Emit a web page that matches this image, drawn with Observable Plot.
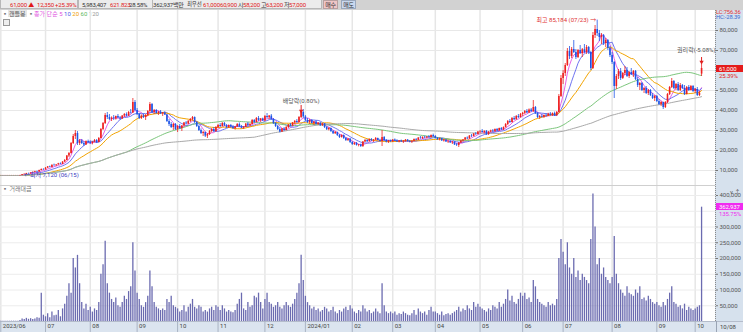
<!DOCTYPE html>
<html><head><meta charset="utf-8">
<script src="https://cdn.jsdelivr.net/npm/d3@7"></script>
<script src="https://cdn.jsdelivr.net/npm/@observablehq/plot@0.6"></script>
<style>
body{margin:0;background:#fff;font-family:Roboto,"Noto Sans CJK KR","Noto Sans",sans-serif;}
#wrap{position:relative;width:743px;height:332px;overflow:hidden;background:#fff}
.abs{position:absolute;white-space:nowrap}
#hdr{left:0;top:0;width:743px;height:10px;background:#d2d2d2;font-size:6px;line-height:9px}
.cell{position:absolute;top:0;height:8px;background:#ececec;border:1px solid #b8b8b8;border-top:none}
.t{position:absolute;top:0;font-size:6px;line-height:9px;letter-spacing:-0.2px}
.r{color:#e01818}.k{color:#333}.b{color:#2040c0}
#rpanel{left:715px;top:10px;width:28px;height:311px;background:#d6e1ed;border-left:1px dotted #8a8a8a}
#xbar{left:0;top:321px;width:743px;height:11px;background:#dbe4ef;border-top:1px solid #b4bccb;box-sizing:border-box}
#sep{left:0;top:185px;width:715px;height:1px;background:#cfcfcf}
svg{position:absolute}
</style></head>
<body><div id="wrap">
<div id="hdr" class="abs">
  <div class="cell" style="left:0;width:76px"></div>
  <div class="cell" style="left:78px;width:73px"></div>
  <div class="cell" style="left:152px;width:168px"></div>
  <span class="t r" style="left:10px">61,000 ▲</span>
  <span class="t r" style="left:37px">12,350</span>
  <span class="t r" style="left:55px">+25.39%</span>
  <span class="t k" style="left:82px">5,983,407</span>
  <span class="t r" style="left:110px">621.823</span>
  <span class="t k" style="left:129px">28.58%</span>
  <span class="t k" style="left:153px">362,937백만</span>
  <span class="t k" style="left:187px;font-size:5.5px">최우선</span>
  <span class="t r" style="left:203px">61,000</span>
  <span class="t r" style="left:220px">60,900</span>
  <span class="t k" style="left:238px">시</span><span class="t r" style="left:243px">58,200</span>
  <span class="t k" style="left:261px">고</span><span class="t r" style="left:266px">63,200</span>
  <span class="t k" style="left:284px">저</span><span class="t r" style="left:289px">57,000</span>
  <span class="t k" style="left:323px;top:0;height:9px;width:15px;background:#efc6c6;border:1px solid #b9a0a0;box-sizing:border-box;text-align:center;line-height:7px">매수</span>
  <span class="t k" style="left:341px;top:0;height:9px;width:15px;background:#c9d8ee;border:1px solid #9aa8bd;box-sizing:border-box;text-align:center;line-height:7px">매도</span>
</div>
<div id="rpanel" class="abs"></div>
<div id="xbar" class="abs"></div>
<div id="sep" class="abs"></div>
<div class="abs" style="left:716px;top:321px;width:1px;height:11px;background:#9aa4b4"></div>
<span class="abs" style="left:720px;top:322px;font-size:6px;line-height:9px;color:#444">10/08</span>
<span class="abs" style="left:716px;top:9px;font-size:5.8px;line-height:7px;color:#e03030;letter-spacing:-0.15px">LC:756.36</span>
<span class="abs" style="left:716px;top:14px;font-size:5.8px;line-height:7px;color:#3a6ad0;letter-spacing:-0.15px">HC:-28.39</span>
<div class="abs" style="left:2px;top:10px;font-size:6px;line-height:8px">
  <span style="color:#777">▪</span><span style="background:#e6e6e6;color:#555;padding:0 1px">캔들봉</span>
  <span style="color:#777">▪</span><span style="color:#e050e0">종가 단순 5</span>
  <span style="color:#4a5ae8">10</span> <span style="color:#f0a000">20</span> <span style="color:#5cb85c">60</span> <span style="color:#999">120</span>
</div>
<div class="abs" style="left:3px;top:19px;width:5px;height:5px;border:1px solid #999;background:#eee"></div>
<span class="abs" style="left:2px;top:185px;font-size:6px;line-height:8px;color:#777">▪ 거래대금</span>
<div id="chart"></div>
</div>
<script>
// ---- Daily candles [open, high, low, close] in thousand KRW ----
const jun23 = [[7.5,7.55,7.45,7.5],[7.5,7.55,7.45,7.5],[7.5,7.55,7.45,7.5],[7.5,7.55,7.45,7.5],[7.5,7.55,7.45,7.5],[7.5,7.55,7.45,7.5],[7.5,7.55,7.45,7.5],[7.5,7.55,7.45,7.5],[7.5,7.55,7.45,7.5],[7.45,7.6,7.12,7.5],
 [7.5,8.0,7.4,7.9],[7.9,8.3,7.8,8.1],[8.1,8.6,8.0,8.5],[8.5,8.7,8.2,8.3],[8.3,9.0,8.2,8.9],[8.9,9.3,8.7,9.1],[9.1,9.6,9.0,9.5],[9.5,9.7,9.0,9.2],[9.2,10.2,9.1,10.0],[10.0,10.8,9.8,10.5],[10.5,10.9,10.1,10.3]];
const jul23 = [[10.3,11.5,10.2,11.2],[11.2,12.0,11.0,11.8],[11.8,12.2,11.3,11.5],[11.5,12.8,11.4,12.6],[12.6,13.2,12.2,12.4],[12.4,13.0,12.0,12.8],[12.8,13.6,12.6,13.4],[13.4,13.8,12.9,13.1],[13.1,14.5,13.0,14.2],[14.2,15.5,13.9,15.0],
 [15.0,17.5,14.8,17.2],[17.2,19.0,16.5,18.5],[18.5,24.0,18.2,23.5],[23.5,28.0,23.0,27.0],[27.0,30.0,25.5,28.5],[28.5,29.5,22.5,23.5],[23.5,25.5,22.5,24.8],[24.8,25.5,23.0,23.5],[23.5,24.5,22.0,22.8],[22.8,24.8,22.5,24.5],[24.5,25.2,23.5,24.0]];
const aug23 = [[24.0,24.8,23.0,23.5],[23.5,24.5,22.8,24.2],[24.2,25.5,23.8,25.0],[25.0,25.5,23.5,24.0],[24.0,26.5,23.8,26.0],[26.0,31.0,25.8,30.5],[30.5,34.0,30.0,33.5],[33.5,38.5,33.0,37.5],[37.5,39.0,35.5,36.5],[36.5,38.0,35.0,35.5],[35.5,36.8,34.5,36.2],
 [36.2,37.5,35.0,35.8],[35.8,37.2,35.2,37.0],[37.0,38.0,36.0,36.3],[36.3,37.0,35.2,35.8],[35.8,37.5,35.5,37.2],[37.2,38.5,36.5,38.0],[38.0,38.8,36.8,37.2],[37.2,39.5,37.0,39.0],[39.0,40.5,38.2,38.8],[38.8,46.0,38.5,44.0],[44.0,45.0,39.5,40.0]];
const sep23 = [[40.0,41.0,37.5,38.0],[38.0,38.5,35.5,36.0],[36.0,37.8,35.5,37.2],[37.2,38.2,36.0,36.5],[36.5,38.0,35.0,37.5],[37.5,40.0,37.0,39.5],[39.5,44.0,39.0,43.0],[43.0,43.5,38.5,39.0],[39.0,40.5,38.0,40.0],[40.0,40.5,38.2,38.5],
 [38.5,39.5,37.5,39.2],[39.2,40.0,38.0,38.3],[38.3,39.0,37.0,38.8],[38.8,39.3,37.5,37.8],[37.8,38.0,34.0,34.5],[34.5,35.5,32.0,33.0],[33.0,34.0,31.0,31.5],[31.5,33.5,30.0,33.0],[33.0,33.5,30.0,30.5]];
const oct23 = [[30.5,32.5,29.0,32.0],[32.0,33.0,30.5,31.0],[31.0,32.5,29.5,32.3],[32.3,34.0,31.8,33.8],[33.8,34.5,32.8,33.2],[33.2,35.0,33.0,34.6],[34.6,36.0,34.0,35.5],[35.5,37.0,34.8,36.5],[36.5,36.8,33.5,34.0],[34.0,34.5,31.5,32.0],
 [32.0,32.5,29.5,30.0],[30.0,30.8,28.0,28.5],[28.5,29.5,27.0,29.0],[29.0,29.2,26.5,27.2],[27.2,28.5,26.0,28.0],[28.0,30.0,27.5,29.5],[29.5,31.0,28.8,30.5],[30.5,31.5,29.0,29.5],[29.5,32.0,29.0,31.5]];
const nov23 = [[31.5,33.0,31.0,32.5],[32.5,33.5,31.5,32.0],[32.0,34.0,31.8,33.5],[33.5,34.0,32.0,32.3],[32.3,33.0,31.0,31.5],[31.5,32.8,31.0,32.5],[32.5,33.0,31.2,31.8],[31.8,32.5,30.5,31.0],[31.0,32.0,30.2,31.8],[31.8,33.5,31.5,33.0],[33.0,33.8,31.5,31.8],
 [31.8,32.5,30.8,31.2],[31.2,32.0,30.5,31.6],[31.6,33.5,31.5,33.2],[33.2,34.0,32.0,32.4],[32.4,33.5,32.0,33.0],[33.0,35.5,32.8,35.0],[35.0,35.5,33.5,34.0],[34.0,36.5,33.8,36.0],[36.0,37.0,34.5,35.0],[35.0,36.0,34.0,35.8],[35.8,36.2,34.5,34.8]];
const dec23 = [[34.8,37.5,34.5,37.0],[37.0,38.5,36.0,36.5],[36.5,37.5,35.5,37.2],[37.2,38.0,35.0,35.5],[35.5,36.0,33.0,33.5],[33.5,34.0,31.5,32.0],[32.0,32.5,30.0,30.5],[30.5,31.5,28.8,29.2],[29.2,31.0,29.0,30.8],[30.8,31.5,29.5,30.0],
 [30.0,32.0,29.8,31.5],[31.5,33.0,31.0,32.8],[32.8,33.5,31.8,32.2],[32.2,34.0,32.0,33.8],[33.8,35.0,33.0,34.5],[34.5,35.5,33.5,34.0],[34.0,37.0,33.8,36.5],[36.5,40.0,36.0,39.0],[39.0,40.5,36.0,36.8]];
const jan24 = [[36.8,37.5,34.5,35.0],[35.0,36.0,33.5,34.0],[34.0,35.5,33.0,35.0],[35.0,35.5,33.2,33.5],[33.5,34.5,32.5,34.2],[34.2,34.8,32.8,33.0],[33.0,34.0,32.5,33.6],[33.6,34.0,32.0,32.4],[32.4,33.5,32.0,33.2],[33.2,33.5,31.0,31.5],[31.5,32.0,30.0,30.4],
 [30.4,31.5,29.8,31.0],[31.0,31.2,29.0,29.5],[29.5,30.0,28.0,28.4],[28.4,29.5,28.0,29.0],[29.0,29.2,27.0,27.5],[27.5,28.0,26.0,26.5],[26.5,27.8,26.2,27.5],[27.5,27.8,25.5,26.0],[26.0,26.5,24.5,25.0],[25.0,26.0,24.5,25.6],[25.6,26.0,23.5,24.0]];
const feb24 = [[24.0,24.5,22.5,23.0],[23.0,24.0,22.5,23.6],[23.6,24.0,22.2,22.5],[22.5,23.0,21.8,22.8],[22.8,23.2,21.5,22.0],[22.0,24.5,21.5,24.2],[24.2,25.5,24.0,25.0],[25.0,25.5,24.0,24.4],[24.4,25.8,24.2,25.5],[25.5,26.0,24.5,24.8],
 [24.8,25.5,24.0,25.2],[25.2,26.5,25.0,26.0],[26.0,26.2,24.8,25.0],[25.0,25.6,24.2,24.5],[24.5,30.0,22.0,26.5],[26.5,27.0,24.5,25.0],[25.0,25.5,23.8,24.2],[24.2,25.0,23.5,24.8],[24.8,25.2,24.0,24.4]];
const mar24 = [[24.4,25.5,24.0,25.2],[25.2,25.8,24.5,24.8],[24.8,25.4,24.0,24.2],[24.2,25.0,23.8,24.8],[24.8,25.2,24.0,24.3],[24.3,25.0,23.5,24.6],[24.6,25.5,24.2,25.2],[25.2,25.5,24.2,24.5],[24.5,25.0,23.8,24.2],[24.2,24.8,23.5,24.6],
 [24.6,25.8,24.4,25.5],[25.5,26.0,24.8,25.1],[25.1,26.5,25.0,26.2],[26.2,27.0,25.6,26.0],[26.0,26.8,25.5,26.6],[26.6,27.2,26.0,26.4],[26.4,27.0,25.8,26.8],[26.8,27.5,26.2,26.5],[26.5,27.8,26.2,27.5],[27.5,28.2,26.5,27.0]];
const apr24 = [[27.0,27.5,25.8,26.0],[26.0,26.5,25.0,25.5],[25.5,26.2,24.8,25.9],[25.9,26.0,24.5,24.8],[24.8,25.5,24.2,25.2],[25.2,25.5,24.0,24.3],[24.3,24.8,23.5,24.6],[24.6,25.0,23.5,23.8],[23.8,24.5,23.0,24.2],[24.2,24.4,22.5,22.8],[22.8,23.5,22.0,22.5],
 [22.5,24.0,21.5,23.8],[23.8,25.0,23.5,24.8],[24.8,25.5,24.0,25.2],[25.2,26.5,25.0,26.2],[26.2,26.8,25.5,25.8],[25.8,27.5,25.6,27.2],[27.2,28.0,26.5,27.0],[27.0,28.5,26.8,28.2],[28.2,29.0,27.5,28.0],[28.0,29.5,27.8,29.2]];
const may24 = [[29.2,30.0,28.5,29.5],[29.5,30.5,28.8,29.0],[29.0,29.8,28.2,29.6],[29.6,30.0,27.5,28.0],[28.0,29.5,27.5,29.2],[29.2,30.2,28.8,29.8],[29.8,30.5,29.0,29.4],[29.4,30.8,29.2,30.5],[30.5,31.0,29.5,29.8],[29.8,31.2,29.6,31.0],
 [31.0,31.5,30.0,30.3],[30.3,31.8,30.0,31.5],[31.5,33.5,31.2,33.0],[33.0,35.0,32.5,34.5],[34.5,35.5,33.5,34.0],[34.0,36.5,33.8,36.0],[36.0,37.0,35.0,35.4],[35.4,37.5,35.2,37.0],[37.0,38.0,36.0,36.5],[36.5,38.5,36.2,38.0]];
const jun24 = [[38.0,39.0,37.0,38.6],[38.6,40.0,38.0,39.5],[39.5,40.5,38.5,38.8],[38.8,40.8,38.5,40.2],[40.2,41.0,39.0,39.5],[39.5,45.0,39.0,41.5],[41.5,42.0,38.0,38.5],[38.5,39.0,36.0,36.5],[36.5,37.5,35.5,37.0],[37.0,38.0,36.2,36.6],
 [36.6,37.8,36.0,37.5],[37.5,38.5,36.8,37.2],[37.2,38.6,37.0,38.2],[38.2,39.0,37.2,37.6],[37.6,38.8,37.0,38.5],[38.5,39.2,37.0,37.4],[37.4,39.5,37.0,39.0],[39.0,48.0,38.8,47.0],[47.0,57.5,46.5,56.0]];
const jul24 = [[56.0,60.0,53.0,58.5],[58.5,63.5,57.0,62.5],[62.5,71.0,62.0,69.5],[69.5,72.0,65.5,67.0],[67.0,71.5,66.0,70.5],[70.5,75.0,68.5,69.0],[69.0,70.5,65.5,66.5],[66.5,70.5,66.0,70.0],[70.0,72.5,68.0,68.5],[68.5,71.0,66.5,70.4],[70.4,73.0,68.5,69.0],
 [69.0,72.5,68.0,71.5],[71.5,72.0,68.0,69.0],[69.0,69.5,60.0,61.0],[61.0,79.0,60.5,77.5],[77.5,82.5,76.0,80.5],[80.5,85.184,77.0,78.5],[78.5,80.0,74.5,76.5],[76.5,78.5,73.0,77.5],[77.5,78.0,72.5,73.5],[73.5,76.0,71.5,75.0],[75.0,75.5,70.0,71.0],[71.0,72.0,66.5,67.5]];
const aug24 = [[67.5,69.0,63.0,64.0],[64.0,64.5,46.0,52.0],[52.0,58.0,50.5,57.0],[57.0,60.5,55.5,59.5],[59.5,61.0,55.0,56.0],[56.0,59.0,55.5,58.5],[58.5,62.0,57.5,60.0],[60.0,61.5,56.5,57.0],[57.0,59.5,56.0,59.0],[59.0,61.0,57.5,58.0],[58.0,60.0,56.5,59.5],
 [59.5,60.0,55.0,55.5],[55.5,56.5,51.5,52.5],[52.5,54.0,50.0,53.5],[53.5,54.0,49.5,50.0],[50.0,51.5,48.5,51.0],[51.0,52.0,48.0,48.5],[48.5,50.5,47.5,50.0],[50.0,50.5,47.0,47.5],[47.5,48.5,45.5,46.0],[46.0,47.5,44.5,47.0]];
const sep24 = [[47.0,47.5,44.0,44.5],[44.5,45.5,42.5,43.0],[43.0,44.5,42.0,44.0],[44.0,44.2,40.5,41.5],[41.5,44.5,41.0,44.0],[44.0,48.5,43.5,48.0],[48.0,52.0,47.5,51.5],[51.5,56.0,51.0,54.5],[54.5,55.0,50.5,51.0],
 [51.0,53.5,50.0,53.0],[53.0,54.0,49.5,50.0],[50.0,53.5,49.5,52.5],[52.5,53.0,50.5,51.0],[51.0,52.5,47.5,48.0],[48.0,52.0,47.8,51.5],[51.5,52.5,49.5,50.0],[50.0,52.5,49.8,52.0],[52.0,52.5,49.0,49.5]];
const oct24 = [[49.5,51.0,48.5,50.5],[50.5,51.5,47.0,47.5],[47.5,49.5,47.0,48.65],[58.2,63.2,57.0,61.0]];

// ---- Daily trading value (thousand of 백만원) ----
const vJun23 = [1,1,1,1,1,1,1,1,1,3,8,6,10,7,9,6,8,12,10,90,20];
const vJul23 = [15,25,12,30,18,20,35,15,40,55,80,120,90,200,170,210,120,60,40,55,35];
const vAug23 = [45,30,40,35,60,150,180,255,120,90,70,60,75,50,45,60,80,70,95,110,250,160];
const vSep23 = [90,70,50,45,60,80,160,110,60,45,40,35,40,35,70,60,80,50,45];
const vOct23 = [40,30,35,50,30,45,55,70,45,40,50,45,30,35,30,40,45,35,50];
const vNov23 = [45,35,50,40,30,35,30,28,35,55,70,90,40,35,60,45,50,80,75,90,60,40];
const vDec23 = [70,90,60,55,45,50,60,45,40,50,60,50,45,55,70,90,120,210,130];
const vJan24 = [80,60,50,40,45,35,40,30,35,45,40,30,35,45,30,25,35,30,40,45,35,50];
const vFeb24 = [40,30,25,35,30,50,40,30,35,25,30,40,30,25,120,50,30,25,30];
const vMar24 = [25,30,20,25,22,30,25,20,18,25,35,20,40,30,25,30,20,35,45,30];
const vApr24 = [30,25,20,30,18,22,25,20,25,30,35,45,30,40,35,50,40,35,60,45,55];
const vMay24 = [45,40,35,30,40,35,50,45,40,60,45,55,70,100,65,80,60,55,70,90];
const vJun24 = [80,90,70,75,60,130,110,70,60,55,50,45,60,50,55,50,70,200,260];
const vJul24 = [220,180,250,170,150,200,140,160,130,150,140,130,120,260,405,300,180,200,150,170,140,130,120];
const vAug24 = [140,270,150,120,100,90,80,110,90,85,80,100,90,110,70,75,65,80,70,60,55];
const vSep24 = [60,50,45,60,50,70,90,110,60,55,45,50,40,55,35,45,40,35];
const vOct24 = [40,45,50,362.937];

// ---- Axis ticks ----
const monthIdx = [0,21,42,64,83,102,124,143,165,184,204,225,245,264,287,308,326];
const monthLabels = ["2023/06","07","08","09","10","11","12","2024/01","02","03","04","05","06","07","08","09","10"];
const priceTicks = [10000,20000,30000,40000,50000,60000,70000,80000];
const priceLabelTicks = [10000,20000,30000,40000,50000,70000,80000];   // 60,000 is hidden behind the current-price box
const volTicks = [50000,100000,150000,200000,250000,300000,350000,400000];
const volLabelTicks = [50000,100000,150000,200000,250000,300000,400000]; // 350,000 hidden behind the current-value box
const maPeriods = [5,10,20,60,120];
const maColors = ["#e662e6","#6f74f0","#f2a300","#7cc67c","#a9a9a9"];

const candlesK = [jun23,jul23,aug23,sep23,oct23,nov23,dec23,jan24,feb24,mar24,apr24,may24,jun24,jul24,aug24,sep24,oct24].flat();
const volsK = [vJun23,vJul23,vAug23,vSep23,vOct23,vNov23,vDec23,vJan24,vFeb24,vMar24,vApr24,vMay24,vJun24,vJul24,vAug24,vSep24,vOct24].flat();
const data = candlesK.map((d,i)=>({i,o:d[0]*1000,h:d[1]*1000,l:d[2]*1000,c:d[3]*1000}));
const vols = volsK.map((v,i)=>({i,v:v*1000}));
const RED="#ee2020", BLUE="#1f55e6";
const col = d => d.c >= d.o ? RED : BLUE;
const mas = maPeriods.map((k,j)=>data.map((d,i)=>({i, v:d3.mean(data.slice(Math.max(0,i-k+1),i+1),e=>e.c), k})));
const months = monthIdx.map((i,j)=>({i,label:monthLabels[j]}));
const xDomain = [-0.141, 335.54];
const font = 'Roboto,"Noto Sans CJK KR","Noto Sans",sans-serif';

const price = Plot.plot({
  width:743, height:175, marginLeft:0, marginRight:28, marginTop:0, marginBottom:0,
  style:{background:"transparent", fontFamily:font, fontSize:"6px", overflow:"visible"},
  x:{domain:xDomain, axis:null},
  y:{domain:[2500,90000], axis:null},
  color:{type:"identity"},
  marks:[
    Plot.ruleX(months,{x:"i", stroke:"#e6e6e6", strokeWidth:1.5}),
    Plot.ruleY(priceTicks,{stroke:"#e8e8e8"}),
    Plot.axisY({anchor:"right", ticks:priceLabelTicks, tickFormat:d3.format(","), tickSize:2, tickPadding:2, stroke:"#777", fill:"#555", fontSize:6}),
    ...mas.map((m,j)=>Plot.line(m,{x:"i", y:"v", stroke:maColors[j], strokeWidth:1})),
    Plot.ruleX(data,{x:"i", y1:"l", y2:"h", stroke:col, strokeWidth:0.8}),
    Plot.ruleX(data,{x:"i", y1:"o", y2:"c", stroke:col, strokeWidth:1.6}),
    // annotations
    Plot.text([data[280]],{x:"i", y:"h", text:()=>"최고 85,184 (07/23) →", textAnchor:"end", dx:-1, fill:"#e03030", fontSize:6}),
    Plot.text([data[9]],{x:"i", y:"l", text:()=>"←최저 7,120 (06/15)", textAnchor:"start", dx:4, dy:-1, fill:"#3b3bc0", fontSize:6}),
    Plot.text([{i:141,y:44500}],{x:"i", y:"y", text:()=>"배당락(0.80%)", fill:"#555", fontSize:6}),
    Plot.ruleX([{i:141,a:42500,b:39500}],{x:"i", y1:"a", y2:"b", stroke:"#e02020"}),
    Plot.dot([{i:141,y:39800}],{x:"i", y:"y", symbol:"triangle", r:1.6, fill:"#e02020", rotate:180}),
    Plot.text([{i:329,y:70000}],{x:"i", y:"y", text:()=>"권리락(-5.08%)", textAnchor:"end", dx:14, fill:"#555", fontSize:6}),
    Plot.ruleX([{i:329,a:66500,b:63800}],{x:"i", y1:"a", y2:"b", stroke:"#e02020"}),
    Plot.dot([{i:329,y:64200}],{x:"i", y:"y", symbol:"triangle", r:1.6, fill:"#e02020", rotate:180})
  ]
});
price.style.left="0px"; price.style.top="10px";

const vol = Plot.plot({
  width:743, height:146, marginLeft:0, marginRight:28, marginTop:0, marginBottom:11,
  style:{background:"transparent", fontFamily:font, fontSize:"6px", overflow:"visible"},
  x:{domain:xDomain, axis:null},
  y:{domain:[0,428600], axis:null},
  marks:[
    Plot.ruleX(months,{x:"i", stroke:"#e6e6e6", strokeWidth:1.5}),
    Plot.ruleY(volTicks,{stroke:"#ececec"}),
    Plot.axisY({anchor:"right", ticks:volLabelTicks, tickFormat:d3.format(","), tickSize:2, tickPadding:2, stroke:"#777", fill:"#555", fontSize:6}),
    Plot.ruleX(vols,{x:"i", y1:0, y2:"v", stroke:"#6b6bb0", strokeWidth:1.3}),
    Plot.ruleX(months,{x:"i", y1:0, y2:-34900, stroke:"#a9b3c3"}),
    Plot.text(months,{x:"i", text:"label", frameAnchor:"bottom", dy:6, dx:2, textAnchor:"start", fill:"#444", fontSize:6})
  ]
});
vol.style.left="0px"; vol.style.top="186px";

const chart = document.getElementById("chart");
chart.append(price, vol);

// current value labels in the right panel, positioned with the plots' scales
const py = price.scale("y").apply(61000) + 10;
const vy = vol.scale("y").apply(362937) + 186;
const wrap = document.getElementById("wrap");
function lab(html, top, css){ const s=document.createElement("div"); s.className="abs"; s.innerHTML=html; s.style.cssText += `left:716px;top:${top}px;width:27px;font-size:6px;line-height:7px;letter-spacing:-0.1px;`+css; wrap.append(s); }
lab("61,000", py-3.5, "background:#e41b1b;color:#fff;padding-left:3px;box-sizing:border-box;");
lab("25.39%", py+3.5, "color:#e41b1b;padding-left:3px;box-sizing:border-box;");
lab("362,937", vy-3.5, "background:#f02cf0;color:#fff;padding-left:3px;box-sizing:border-box;");
lab("135.75%", vy+3.5, "color:#f02cf0;padding-left:3px;box-sizing:border-box;");
</script>
</body></html>
